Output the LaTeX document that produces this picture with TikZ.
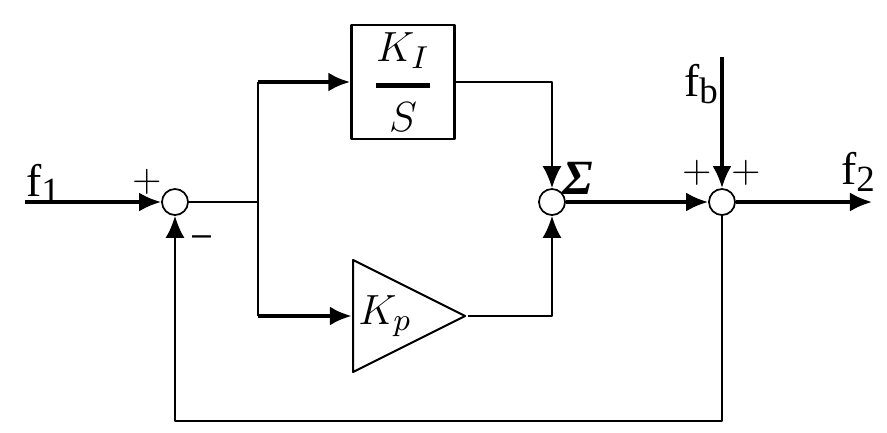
\documentclass[tikz,border=0pt]{standalone}
\usepackage{fontspec}
\setmainfont{Liberation Serif}
\usepackage{amsmath}
\usetikzlibrary{arrows.meta, shapes.geometric, calc}
\tikzset{>={Latex[length=2.2mm,width=1.9mm]}}
\tikzset{sum/.style={draw, circle, line width=0.5pt, minimum size=2.6mm, inner sep=0pt}}
\tikzset{blk/.style={draw, line width=0.6pt, minimum width=10.3mm, minimum height=11.4mm, inner sep=0pt}}
\tikzset{amp/.style={draw, line width=0.6pt, isosceles triangle, isosceles triangle stretches,
    shape border rotate=0, minimum width=11.2mm, minimum height=11.2mm, inner sep=0pt}}
\tikzset{thin line/.style={line width=0.6pt}}
\tikzset{heavy/.style={line width=1.3pt}}
\tikzset{medium/.style={line width=0.9pt}}
\tikzset{sign/.style={font=\sffamily\fontsize{11}{13}\selectfont, inner sep=0pt}}
\tikzset{lbl/.style={font=\fontsize{13}{15}\selectfont, inner sep=0pt}}
\newcommand{\lowsub}[1]{\raisebox{-0.35ex}{\fontsize{10.5}{12}\selectfont #1}}

\begin{document}
\begin{tikzpicture}[x=0.01cm, y=-0.01cm, line join=round]
\useasboundingbox (0,0) rectangle (887,433);

\node[sum] (s1) at (175,202) {};
\node[sum] (s2) at (552,202) {};
\node[sum] (s3) at (722,202) {};
\node[blk, font=\fontsize{13}{15}\selectfont] (ki) at (403,82) {$\displaystyle\genfrac{}{}{1.4pt}{}{K_I}{S}$};
\node[amp, anchor=lower side, font=\fontsize{13}{15}\selectfont] (kp) at (352,316) {$K_p$};

\coordinate (f1in) at (25,202);
\coordinate (br) at (258,202);
\coordinate (fbin) at (722,57);
\coordinate (f2out) at (872,202);
\coordinate (fbk) at (722,421);

\node[lbl] (f1) at (43,184) {f\lowsub{1}};
\node[lbl] (fb) at (701,84) {f\lowsub{b}};
\node[lbl] (f2) at (858,172) {f\lowsub{2}};
\node[sign] (p1) at (147,182) {+};
\node[sign] (m1) at (202,242) {--};
\node[sign] (p3a) at (697,173) {+};
\node[sign] (p3b) at (746,173) {+};
\node[font=\bfseries\itshape\fontsize{14}{16}\selectfont, inner sep=0pt] (sig) at (578,178) {Σ};

\draw[medium,->] (f1in) -- (s1.west);
\draw[thin line] (s1.east) -- (br);
\draw[thin line] (br |- ki.west) -- (br |- kp.west);
\draw[heavy,->] (br |- ki.west) -- (ki.west);
\draw[heavy,->] (br |- kp.west) -- (kp.west);
\draw[thin line,->] (ki.east) -| (s2.north);
\draw[thin line,->] (kp.apex) -| (s2.south);
\draw[medium,->] (s2.east) -- (s3.west);
\draw[medium,->] (fbin) -- (s3.north);
\draw[medium,->] (s3.east) -- (f2out);
\draw[thin line,->] (s3.south) -- (fbk) -| (s1.south);

\end{tikzpicture}
\end{document}
